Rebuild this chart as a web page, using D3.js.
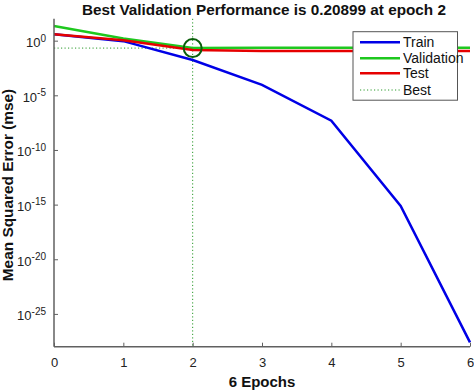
<!DOCTYPE html>
<html><head><meta charset="utf-8">
<script src="https://cdn.jsdelivr.net/npm/d3@7"></script>
<style>body{margin:0;background:#fff;} svg{display:block;font-family:"Liberation Sans",Arial,sans-serif;}</style>
</head><body>
<script>
const epochs = [0, 1, 2, 3, 4, 5, 6];
const train = [3.8, 0.9, 0.017, 9e-5, 4.8e-8, 7.6e-16, 2.5e-28];
const validation = [22, 1.6, 0.20899, 0.22, 0.225, 0.225, 0.225];
const test = [3.8, 1.1, 0.14, 0.115, 0.115, 0.115, 0.115];
const bestEpoch = 2, bestValue = 0.20899;
const xTicks = [0, 1, 2, 3, 4, 5, 6];
const yTickExps = [0, -5, -10, -15, -20, -25];
const legendNames = ["Train", "Validation", "Test", "Best"];

const W = 474, H = 392;
const svg = d3.select("body").append("svg").attr("width", W).attr("height", H);
const x = d3.scaleLinear().domain([0, 6]).range([54, 470]);
const y = d3.scaleLog().domain([1e-28, 1e2]).range([346.7, 18.8]);
const axisColor = "#606060";

// best lines
svg.append("line").attr("x1", x(bestEpoch)).attr("x2", x(bestEpoch)).attr("y1", y(1e2)).attr("y2", y(1e-28))
  .attr("stroke", "#2a9a2a").attr("stroke-width", 1).attr("stroke-dasharray", "1.2,2.3");
svg.append("line").attr("x1", x(0)).attr("x2", x(6)).attr("y1", y(bestValue)).attr("y2", y(bestValue))
  .attr("stroke", "#2a9a2a").attr("stroke-width", 1).attr("stroke-dasharray", "1.2,2.3");

const line = d3.line().x((d, i) => x(epochs[i])).y(d => y(d));
svg.append("path").datum(train).attr("d", line).attr("fill", "none").attr("stroke", "#0000e6").attr("stroke-width", 2.5);
svg.append("path").datum(validation).attr("d", line).attr("fill", "none").attr("stroke", "#1ec81e").attr("stroke-width", 2.5);
svg.append("path").datum(test).attr("d", line).attr("fill", "none").attr("stroke", "#e60000").attr("stroke-width", 2.5);

svg.append("circle").attr("cx", x(bestEpoch)).attr("cy", y(bestValue)).attr("r", 9)
  .attr("fill", "none").attr("stroke", "#0b5e0b").attr("stroke-width", 2);

// axes
const xAxis = d3.axisBottom(x).tickValues(xTicks).tickSize(-4).tickPadding(11).tickFormat(d3.format("d"));
const gx = svg.append("g").attr("transform", `translate(0,${y(1e-28)})`).call(xAxis);
const yAxis = d3.axisLeft(y).tickValues(yTickExps.map(e => Math.pow(10, e))).tickSize(-4).tickPadding(8).tickFormat(() => "");
const gy = svg.append("g").attr("transform", `translate(${x(0)},0)`).call(yAxis);
[gx, gy].forEach(g => {
  g.select(".domain").attr("stroke", axisColor).attr("stroke-width", 1.5);
  g.selectAll(".tick line").attr("stroke", axisColor);
});
gx.select(".domain").attr("d", `M${x(0)},0H${x(6)}`);
gy.select(".domain").attr("d", `M0,${y(1e2)}V${y(1e-28)}`);
gx.selectAll(".tick text").attr("font-size", 13).attr("fill", "#222").attr("font-family", "Liberation Sans, Arial, sans-serif");

gy.selectAll(".tick").each(function(d, i) {
  const t = d3.select(this).select("text").attr("font-size", 13).attr("fill", "#222")
    .attr("font-family", "Liberation Sans, Arial, sans-serif").attr("dy", "0.45em");
  t.append("tspan").text("10");
  t.append("tspan").attr("dy", "-0.55em").attr("font-size", 10).text(yTickExps[i]);
});

// title & labels
svg.append("text").attr("x", 264).attr("y", 15).attr("text-anchor", "middle").attr("font-weight", "bold")
  .attr("font-size", 15.3).attr("fill", "#111").text("Best Validation Performance is 0.20899 at epoch 2");
svg.append("text").attr("x", 262).attr("y", 387).attr("text-anchor", "middle").attr("font-weight", "bold")
  .attr("font-size", 15).attr("fill", "#111").text("6 Epochs");
svg.append("text").attr("transform", "translate(13,185) rotate(-90)").attr("text-anchor", "middle").attr("font-weight", "bold")
  .attr("font-size", 15.4).attr("fill", "#111").text("Mean Squared Error  (mse)");

// legend
const lg = svg.append("g");
lg.append("rect").attr("x", 353).attr("y", 31.7).attr("width", 104.5).attr("height", 68.5)
  .attr("fill", "#fff").attr("stroke", "#555").attr("stroke-width", 1);
const lcolors = ["#0000e6", "#1ec81e", "#e60000", "#2a9a2a"];
const lys = [42.3, 58.3, 73.3, 90];
legendNames.forEach((n, i) => {
  const l = lg.append("line").attr("x1", 360).attr("x2", 400).attr("y1", lys[i]).attr("y2", lys[i]).attr("stroke", lcolors[i]);
  if (i < 3) l.attr("stroke-width", 2.5); else l.attr("stroke-width", 1).attr("stroke-dasharray", "1.2,2.3");
  lg.append("text").attr("x", 403).attr("y", lys[i]).attr("dy", "0.35em").attr("font-size", 14).attr("fill", "#111").text(n);
});
</script>
</body></html>
